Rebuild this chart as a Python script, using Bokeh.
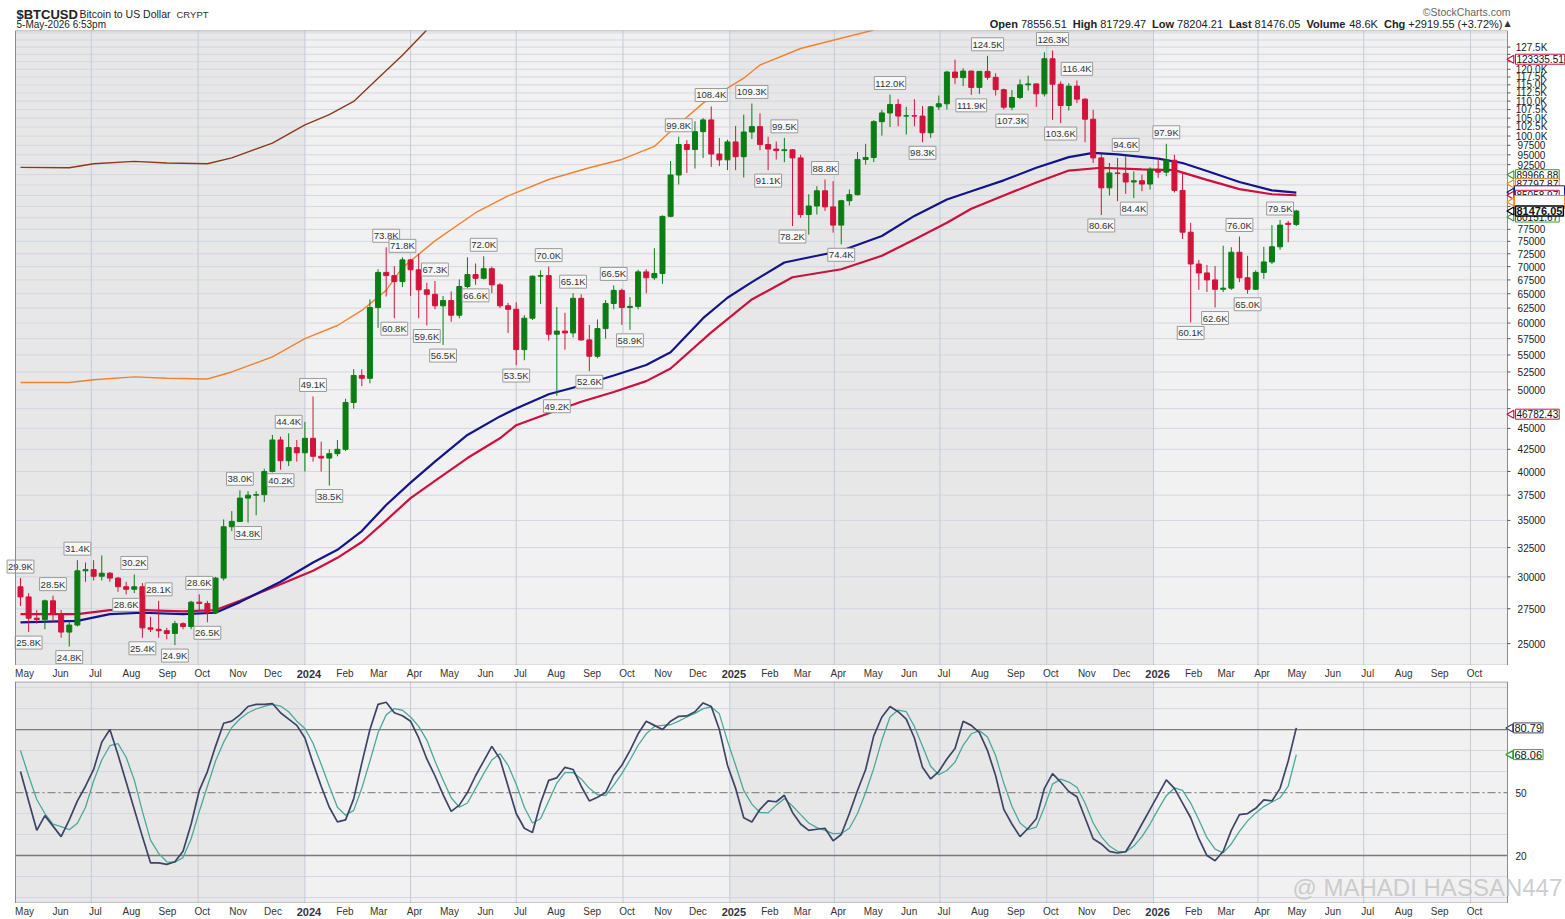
import math
import pandas as pd
from bokeh.plotting import figure
from bokeh.models import Range1d
from bokeh.layouts import column
from bokeh.embed import file_html
from bokeh.resources import INLINE
from bokeh.core.properties import value

# ---------------- data: weekly bars (thousand USD) starting week of 1-May-2023 ----------------
START = "2023-05-01"
OPEN = [29.2, 28.4, 26.8, 26.7, 28.1, 27.1, 25.8, 26.3, 30.5, 30.6,
        30.05, 30.3, 29.9, 29.2, 29.0, 29.2, 26.1, 26.0, 25.9, 25.7,
        26.4, 26.2, 28.0, 27.9, 27.2, 29.9, 34.4, 34.9, 37.2, 37.5,
        37.55, 40.0, 43.6, 41.2, 42.7, 42.1, 43.8, 41.7, 41.5, 42.0,
        42.5, 48.3, 52.0, 51.6, 62.6, 68.9, 68.3, 67.2, 71.3, 69.4,
        65.7, 64.9, 62.9, 63.8, 61.3, 66.3, 68.5, 67.8, 69.6, 66.6,
        62.9, 62.3, 55.8, 60.8, 68.2, 68.3, 58.2, 58.7, 58.4, 64.2,
        57.3, 54.8, 59.1, 63.3, 65.6, 62.6, 62.8, 69.0, 67.9, 68.7,
        80.3, 89.9, 97.7, 96.4, 101.2, 104.5, 95.2, 93.7, 98.4, 94.5,
        101.1, 102.6, 97.7, 96.5, 96.1, 96.3, 94.2, 80.7, 82.6, 86.1,
        82.4, 78.4, 83.8, 85.2, 93.8, 94.3, 104.0, 106.5, 109.0, 105.6,
        105.7, 105.6, 100.9, 108.3, 109.2, 119.1, 117.3, 119.4, 114.2, 119.3,
        117.4, 113.5, 108.2, 111.1, 115.0, 115.3, 112.2, 123.5, 115.2, 108.7,
        114.6, 110.6, 104.7, 94.2, 86.8, 90.4, 90.3, 88.2, 88.5, 87.7,
        91.3, 90.6, 93.6, 86.2, 76.9, 70.5, 68.8, 67.5, 65.8, 66.0,
        72.8, 67.9, 65.8, 68.9, 70.9, 73.9, 78.8, 78.55651]
HIGH = [29.9, 28.7, 27.4, 28.2, 28.5, 27.4, 26.6, 31.4, 31.2, 31.4,
        31.8, 30.4, 30.0, 29.6, 30.2, 29.5, 26.9, 28.1, 26.1, 26.6,
        26.5, 28.1, 28.6, 28.1, 30.0, 35.1, 35.9, 38.0, 37.9, 37.9,
        40.3, 44.2, 44.0, 44.4, 43.6, 45.8, 49.1, 43.4, 42.5, 43.6,
        48.8, 52.9, 52.9, 64.0, 69.5, 73.8, 70.1, 71.8, 71.5, 72.5,
        67.0, 67.3, 64.6, 65.4, 67.6, 71.8, 70.6, 72.0, 70.0, 66.9,
        63.4, 63.5, 61.3, 68.3, 69.3, 70.0, 62.7, 61.7, 65.1, 64.9,
        59.7, 60.6, 63.9, 66.5, 65.9, 64.4, 69.4, 69.5, 73.6, 80.5,
        93.4, 99.8, 98.9, 104.1, 105.0, 108.4, 99.5, 99.0, 102.8, 106.0,
        109.3, 106.4, 99.8, 98.5, 99.5, 96.5, 95.0, 85.3, 87.2, 88.8,
        88.4, 84.0, 86.4, 95.7, 97.9, 104.4, 107.4, 112.0, 110.6, 108.3,
        110.6, 108.5, 108.5, 111.7, 119.5, 123.2, 120.3, 119.6, 119.4, 124.5,
        118.7, 113.8, 113.4, 116.7, 117.9, 115.4, 125.7, 126.3, 116.1, 115.5,
        116.4, 110.8, 107.4, 95.2, 92.9, 94.2, 94.6, 90.8, 90.0, 91.8,
        94.2, 97.9, 95.0, 90.4, 78.9, 71.3, 70.3, 70.1, 74.1, 73.8,
        76.0, 72.1, 69.3, 73.9, 78.4, 79.5, 79.3, 81.72947]
LOW = [27.7, 25.8, 26.4, 26.0, 26.5, 25.4, 24.8, 26.2, 29.6, 29.7,
       29.7, 29.6, 28.8, 28.6, 28.7, 25.4, 25.8, 25.4, 25.3, 24.9,
       26.0, 26.0, 27.3, 26.5, 27.1, 29.7, 34.0, 34.9, 34.8, 35.5,
       36.8, 39.9, 40.2, 40.6, 41.1, 40.0, 41.1, 40.0, 38.5, 41.7,
       42.3, 47.5, 50.5, 50.9, 59.2, 64.5, 60.8, 66.2, 64.6, 60.8,
       59.6, 62.3, 56.5, 60.2, 60.8, 66.0, 66.6, 67.6, 65.1, 62.5,
       58.4, 53.5, 54.2, 60.5, 63.2, 57.2, 49.2, 55.8, 57.7, 57.2,
       52.6, 54.5, 57.5, 62.3, 59.7, 58.9, 62.3, 65.1, 67.5, 66.8,
       80.1, 87.6, 90.4, 91.5, 94.2, 91.9, 92.1, 91.1, 91.1, 89.3,
       99.2, 96.2, 91.1, 93.8, 93.1, 78.2, 80.0, 76.4, 80.7, 81.5,
       76.8, 74.4, 82.7, 85.0, 92.5, 93.1, 100.1, 102.5, 102.7, 100.4,
       102.7, 98.3, 99.5, 107.4, 107.5, 115.3, 114.6, 111.9, 112.2, 116.6,
       111.7, 107.5, 107.3, 110.6, 113.2, 108.3, 111.4, 104.5, 103.6, 107.2,
       109.4, 98.3, 92.9, 80.6, 85.0, 83.7, 85.4, 84.4, 86.0, 86.4,
       89.2, 89.6, 85.7, 75.5, 60.1, 65.7, 65.3, 62.6, 65.3, 65.7,
       67.1, 65.0, 65.7, 67.7, 70.5, 73.3, 74.8, 78.20421]
CLOSE = [28.4, 26.8, 26.7, 28.1, 27.1, 25.8, 26.3, 30.5, 30.6, 30.05,
         30.3, 29.9, 29.2, 29.0, 29.2, 26.1, 26.0, 25.9, 25.7, 26.4,
         26.2, 28.0, 27.9, 27.2, 29.9, 34.4, 34.9, 37.2, 37.5, 37.55,
         40.0, 43.6, 41.2, 42.7, 42.1, 43.8, 41.7, 41.5, 42.0, 42.5,
         48.3, 52.0, 51.6, 62.6, 68.9, 68.3, 67.2, 71.3, 69.4, 65.7,
         64.9, 62.9, 63.8, 61.3, 66.3, 68.5, 67.8, 69.6, 66.6, 62.9,
         62.3, 55.8, 60.8, 68.2, 68.3, 58.2, 58.7, 58.4, 64.2, 57.3,
         54.8, 59.1, 63.3, 65.6, 62.6, 62.8, 69.0, 67.9, 68.7, 80.3,
         89.9, 97.7, 96.4, 101.2, 104.5, 95.2, 93.7, 98.4, 94.5, 101.1,
         102.6, 97.7, 96.5, 96.1, 96.3, 94.2, 80.7, 82.6, 86.1, 82.4,
         78.4, 83.8, 85.2, 93.8, 94.3, 104.0, 106.5, 109.0, 105.6, 105.7,
         105.6, 100.9, 108.3, 109.2, 119.1, 117.3, 119.4, 114.2, 119.3, 117.4,
         113.5, 108.2, 111.1, 115.0, 115.3, 112.2, 123.5, 115.2, 108.7, 114.6,
         110.6, 104.7, 94.2, 86.8, 90.4, 90.3, 88.2, 88.5, 87.7, 91.3,
         90.6, 93.6, 86.2, 76.9, 70.5, 68.8, 67.5, 65.8, 66.0, 72.8,
         67.9, 65.8, 68.9, 70.9, 73.9, 78.4, 78.55651, 81.47605]

HI_LABEL_WEEKS = [1, 5, 8, 15, 18, 23, 28, 34, 37, 46, 48, 52, 58, 66, 69, 74, 82, 86, 91, 95,
                  100, 108, 120, 128, 131, 137, 142, 151, 156]
LO_LABEL_WEEKS = [2, 7, 14, 16, 20, 24, 29, 33, 39, 47, 51, 53, 57, 62, 67, 71, 76, 93, 96, 102,
                  112, 118, 123, 129, 134, 138, 145, 148, 152]

MA_BLUE_WEEK = [1, 8, 12, 16, 21, 25, 28, 33, 37, 40, 43, 46, 49, 52, 56, 60, 62, 66, 70, 74, 78, 81,
                85, 88, 91, 95, 99, 102, 107, 111, 115, 118, 122, 126, 130, 133, 136, 141, 144, 147,
                151, 155, 158]
MA_BLUE = [26.5, 26.6, 27.1, 27.2, 27.1, 27.2, 28.0, 29.6, 31.2, 32.3, 34.0, 36.5, 38.8, 41.1, 44.2,
           46.5, 47.5, 49.4, 50.6, 52.0, 53.5, 55.4, 60.8, 64.3, 67.1, 70.8, 72.1, 73.1, 76.1, 80.4,
           84.1, 86.0, 88.6, 91.7, 94.4, 95.5, 95.1, 94.0, 92.9, 90.9, 88.2, 86.2, 85.66]
MA_RED_WEEK = [1, 8, 12, 16, 21, 25, 28, 33, 37, 40, 43, 46, 49, 52, 56, 60, 62, 66, 70, 74, 78, 81,
               86, 91, 96, 102, 107, 111, 115, 118, 122, 126, 130, 134, 139, 143, 147, 151, 155, 158]
MA_RED = [27.1, 27.1, 27.4, 27.4, 27.3, 27.4, 28.1, 29.4, 30.5, 31.6, 33.0, 35.0, 37.2, 39.0, 41.5,
          43.8, 45.4, 46.9, 48.4, 49.7, 51.2, 53.0, 58.5, 64.0, 68.0, 69.5, 72.1, 75.4, 78.9, 82.0,
          85.0, 88.1, 91.0, 91.7, 91.3, 91.1, 88.7, 86.5, 85.3, 85.06]
BAND_ORANGE_WEEK = [1, 7, 10, 15, 19, 24, 27, 32, 36, 40, 43, 46, 48, 52, 57, 61, 66, 71, 75, 79,
                    81, 85, 90, 92, 97, 101, 106]
BAND_ORANGE = [51.0, 51.0, 51.4, 51.8, 51.6, 51.5, 52.5, 54.7, 57.5, 59.6, 62.1, 65.6, 69.8, 75.1,
               81.1, 84.9, 88.8, 91.7, 93.8, 97.2, 101.3, 109.4, 117.1, 121.4, 127.0, 129.9, 133.6]
BAND_BROWN_WEEK = [1, 7, 10, 15, 19, 24, 27, 32, 36, 39, 42, 45, 48, 51]
BAND_BROWN = [91.8, 91.7, 92.7, 93.3, 92.9, 92.7, 94.2, 98.1, 103.1, 106.0, 109.9, 117.1, 124.7, 133.6]

STO_K = [60, 46, 32, 39, 34, 29, 37, 46, 53, 61, 74, 80, 68, 55, 42, 29, 16.5, 16.5, 15.8, 17,
         22, 35, 51, 60, 72, 83, 84, 87, 91, 92, 92, 92.4, 88, 85, 82, 76, 64, 53, 43, 36,
         37, 47, 64, 80, 92, 93, 88, 86.6, 84, 76, 66, 58, 49, 41, 44, 50, 58, 65, 72, 66,
         53, 40, 33, 31, 45, 55.8, 57, 62, 61, 53, 46, 47.8, 50, 58, 63, 70, 78, 84, 82, 80,
         84, 86.3, 86.5, 88.5, 92.7, 91, 80, 63, 52, 38, 36, 42, 46, 45.6, 48.7, 40.5, 35, 32, 32.5, 33,
         27, 30, 40, 51, 61, 77, 86, 91, 88.5, 85, 76, 62, 56.5, 60, 66, 71, 84, 82, 78.5, 70,
         58, 42, 35, 29, 33, 37.5, 52, 59, 55, 50.5, 48, 38, 28, 25.5, 22, 21.2, 21.8, 28, 35, 42,
         49, 56, 52, 45, 38, 28, 20, 17.5, 22, 32, 39.5, 40, 42.5, 46.5, 46, 52, 65, 80.79]
STO_D = [70, 58, 46.7, 40, 35, 33.8, 32.3, 35.4, 43, 55.5, 65.5, 72.3, 73.3, 66.8, 56, 41, 27.3, 21, 17, 16.8,
         19, 28, 41, 53, 65, 74, 81, 85, 88, 89.8, 91, 92, 91.2, 88.5, 84, 80.5, 73.5, 63.5, 53, 43,
         39.2, 41.5, 52, 65, 78.5, 87, 90, 89.2, 86, 81.5, 75, 65, 56, 47.5, 43, 45, 52, 59, 65.5, 68.5,
         63, 54, 43, 35.5, 37.5, 46, 54.5, 59.5, 59.5, 56.5, 52, 49, 48.5, 53.5, 59, 65.5, 72.5, 78, 81.5, 82,
         82.3, 84, 86, 87.7, 90, 90.8, 87.5, 74.5, 63, 51, 44.5, 40.5, 40.3, 44, 47.1, 43.6, 39.5, 35.5, 33.3, 32,
         30.4, 30.5, 33, 40, 50, 61.5, 75, 86, 89.3, 88.5, 81.5, 72, 62.5, 58.5, 60.5, 64.5, 72.5, 78, 79.5, 76.5,
         67.5, 54.5, 43.5, 35.5, 32.3, 33.5, 43, 54, 56.4, 55, 52.5, 45, 35.5, 29, 24.5, 22, 21.7, 24.5, 29, 35,
         42, 48.5, 52.2, 51, 45, 37, 28.5, 23, 21.3, 25.5, 31.5, 36.5, 40.3, 43.3, 45.5, 47.5, 53, 68.06]

MONTH_LABELS = ["May", "Jun", "Jul", "Aug", "Sep", "Oct", "Nov", "Dec",
                "2024", "Feb", "Mar", "Apr", "May", "Jun", "Jul", "Aug", "Sep", "Oct", "Nov", "Dec",
                "2025", "Feb", "Mar", "Apr", "May", "Jun", "Jul", "Aug", "Sep", "Oct", "Nov", "Dec",
                "2026", "Feb", "Mar", "Apr", "May", "Jun", "Jul", "Aug", "Sep", "Oct"]
PRICE_TICKS = list(range(25000, 130000, 2500))
PRICE_TICKS_HIDDEN = [47500, 80000, 82500, 85000, 87500, 90000, 122500, 125000]
# (value, text, border colour, bold, text visible)
PRICE_TAGS = [(123335.51, "123335.51", "#cc1040", False, True),
              (89966.88, "89966.88", "#3a9a3a", False, True),
              (87797.87, "87797.87", "#f08a30", False, True),
              (85750.0, "", "#1a1a8a", False, False),
              (85058.97, "85058.97", "#cc1040", False, True),
              (83500.0, "", "#f08a30", False, False),
              (80151.67, "80151.67", "#3a9a3a", False, True),
              (81476.05, "81476.05", "#000000", True, True),
              (46782.43, "46782.43", "#cc1040", False, True)]
OSC_TAGS = [(80.79, "80.79", "#3d4466"), (68.06, "68.06", "#3a9a3a")]
OSC_LEVELS = [50, 20]

HEADER_ITEMS = [("Open", True), ("78556.51", False), ("High", True), ("81729.47", False),
                ("Low", True), ("78204.21", False), ("Last", True), ("81476.05", False),
                ("Volume", True), ("48.6K", False), ("Chg", True), ("+2919.55 (+3.72%)", False)]

# ---------------- layout ----------------
FONT = "Liberation Sans"
W = 1565
H_HEAD, H_PRICE, H_STRIP, H_OSC = 30, 635, 16, 222
FL, FR = 15, 1507
PPD = 1.1609  # pixels per day
DAY = 86400000.0


def ms(s):
    return (pd.Timestamp(s) - pd.Timestamp("1970-01-01")).total_seconds() * 1000.0


T0 = ms(START)
X0 = T0 - (20 / PPD) * DAY
X1 = T0 + ((W - 20) / PPD) * DAY


def px(c):
    return X0 + c * (X1 - X0) / W


def wx(n):
    return T0 + (n - 1) * 7 * DAY


xr = Range1d(X0, X1)
N = len(OPEN)
XS = [wx(i + 1) for i in range(N)]
PY0, PY1 = 23550, 133400
OY0, OY1 = -2.86, 102.9

GREEN, RED = "#0b7d14", "#d2143c"
DARK_BG, LIGHT_BG = "#e7e7e7", "#f1f1f1"
HGRID, VGRID, BORDER = "#d3d7e0", "#c5cad6", "#8c8c8c"

band_l = [px(FL), ms("2024-01-01"), ms("2025-01-01"), ms("2026-01-01")]
band_r = [ms("2024-01-01"), ms("2025-01-01"), ms("2026-01-01"), px(FR)]
band_c = [DARK_BG, LIGHT_BG, DARK_BG, LIGHT_BG]
quarters = [ms(d) for d in pd.date_range("2023-07-01", "2026-10-01", freq="QS")]


def base_fig(h, yr, ylog=False, xrange=None):
    kw = dict(width=W, height=h, x_range=xrange if xrange is not None else xr, y_range=yr,
              toolbar_location=None, output_backend="svg", x_axis_location=None,
              y_axis_location=None, min_border=0, outline_line_color=None,
              background_fill_color="white", border_fill_color="white")
    if ylog:
        kw["y_axis_type"] = "log"
    f = figure(**kw)
    f.grid.grid_line_color = None
    return f


# Arial-metric widths (1/1000 em) used only to lay out the header line
REG = {"O": 778, "p": 556, "e": 556, "n": 556, "H": 722, "i": 222, "g": 556, "h": 556, "L": 556,
       "o": 556, "w": 722, "a": 556, "s": 500, "t": 278, "V": 667, "l": 222, "u": 556, "m": 833,
       "C": 722, "K": 667, ".": 278, " ": 278, "+": 584, "(": 333, ")": 333, "%": 889}
BLD = {"O": 778, "p": 611, "e": 556, "n": 611, "H": 722, "i": 278, "g": 611, "h": 611, "L": 611,
       "o": 611, "w": 778, "a": 556, "s": 556, "t": 333, "V": 667, "l": 278, "u": 611, "m": 889,
       "C": 722}


def tw(s, size, bold):
    tab = BLD if bold else REG
    return sum(tab.get(ch, 556) for ch in s) * size / 1000.0


# ---------------- header ----------------
hd = base_fig(H_HEAD, Range1d(0, H_HEAD), xrange=Range1d(0, W))
L1, L2 = 16.5, 6.5
hd.text(x=[16], y=[L1], text=["$BTCUSD"], text_font=value(FONT), text_font_size="13px",
        text_font_style="bold", text_color="#222222", text_baseline="alphabetic")
hd.text(x=[79], y=[L1], text=["Bitcoin to US Dollar"], text_font=value(FONT), text_font_size="10.5px",
        text_color="#222222", text_baseline="alphabetic")
hd.text(x=[176], y=[L1], text=["CRYPT"], text_font=value(FONT), text_font_size="9.5px",
        text_color="#333333", text_baseline="alphabetic")
hd.text(x=[16], y=[L2], text=["5-May-2026 6:53pm"], text_font=value(FONT), text_font_size="10px",
        text_color="#222222", text_baseline="alphabetic")
hd.text(x=[1510], y=[L1 + 2], text=["\u00a9StockCharts.com"], text_font=value(FONT), text_font_size="10.5px",
        text_color="#666666", text_baseline="alphabetic", text_align="right")
FS = 11
cur = 1502.0
pos = []
for i in range(len(HEADER_ITEMS) - 1, -1, -1):
    t, b = HEADER_ITEMS[i]
    cur -= tw(t, FS, b)
    pos.append((cur, t, b))
    cur -= 3 if not b else 6
for x, t, b in pos:
    hd.text(x=[x], y=[L2], text=[t], text_font=value(FONT), text_font_size="%dpx" % FS,
            text_font_style="bold" if b else "normal", text_color="#222222", text_baseline="alphabetic")
hd.text(x=[1504], y=[L2 + 0.5], text=["\u25b2"], text_font=value("DejaVu Sans"), text_font_size="8px",
        text_color="#333333", text_baseline="alphabetic")

# ---------------- price panel ----------------
pp = base_fig(H_PRICE, Range1d(PY0, PY1), ylog=True)
pp.quad(left=band_l, right=band_r, bottom=PY0, top=PY1, fill_color=band_c, line_color=None)
grid_levels = list(range(25000, 135000, 2500))
pp.segment(x0=px(FL), x1=px(FR), y0=grid_levels, y1=grid_levels, line_color=HGRID, line_width=1)
pp.segment(x0=quarters, x1=quarters, y0=PY0, y1=PY1, line_color=VGRID, line_width=1)

pp.line([wx(n) for n in BAND_BROWN_WEEK], [v * 1000 for v in BAND_BROWN], line_color="#8b3a1e", line_width=1.4)
pp.line([wx(n) for n in BAND_ORANGE_WEEK], [v * 1000 for v in BAND_ORANGE], line_color="#f08232", line_width=1.4)
pp.line([wx(n) for n in MA_RED_WEEK], [v * 1000 for v in MA_RED], line_color="#cc1040", line_width=2.2)
pp.line([wx(n) for n in MA_BLUE_WEEK], [v * 1000 for v in MA_BLUE], line_color="#14148c", line_width=2.2)

cols = [GREEN if c >= o else RED for o, c in zip(OPEN, CLOSE)]
pp.segment(x0=XS, x1=XS, y0=[v * 1000 for v in LOW], y1=[v * 1000 for v in HIGH], line_color=cols, line_width=1)
pp.vbar(x=XS, width=4.3 * DAY, top=[max(o, c) * 1000 for o, c in zip(OPEN, CLOSE)],
        bottom=[min(o, c) * 1000 for o, c in zip(OPEN, CLOSE)], fill_color=cols, line_color=cols, line_width=1)

lab_kw = dict(text_font=value(FONT), text_font_size="9.5px", text_color="#333333", text_align="center",
              background_fill_color="#f8f8f8", border_line_color="#9a9a9a", padding=1)
pp.text(x=[wx(n) for n in HI_LABEL_WEEKS], y=[HIGH[n - 1] * 1000 for n in HI_LABEL_WEEKS],
        text=["%.1fK" % HIGH[n - 1] for n in HI_LABEL_WEEKS], text_baseline="bottom", y_offset=-5, **lab_kw)
pp.text(x=[wx(n) for n in LO_LABEL_WEEKS], y=[LOW[n - 1] * 1000 for n in LO_LABEL_WEEKS],
        text=["%.1fK" % LOW[n - 1] for n in LO_LABEL_WEEKS], text_baseline="top", y_offset=4, **lab_kw)

# frame border
pp.segment(x0=[px(FL), px(FR), px(FL), px(FL)], x1=[px(FL), px(FR), px(FR), px(FR)],
           y0=[PY0, PY0, PY1 * 0.9995, PY0 * 1.0005], y1=[PY1, PY1, PY1 * 0.9995, PY0 * 1.0005],
           line_color=BORDER, line_width=1)

# right price scale
pp.segment(x0=px(FR), x1=px(FR + 3), y0=PRICE_TICKS, y1=PRICE_TICKS, line_color="#555555", line_width=1)
shown = [v for v in PRICE_TICKS if v not in PRICE_TICKS_HIDDEN]
pp.text(x=px(1531), y=shown, text=[("%.1fK" % (v / 1000)) if v >= 100000 else str(v) for v in shown],
        text_font=value(FONT), text_font_size="10px", text_color="#222222", text_align="center",
        text_baseline="middle")
for v, t, c, b, vis in PRICE_TAGS:
    pp.scatter(x=[px(1511)], y=[v], marker="triangle", size=8, angle=math.pi / 2,
               fill_color="white", line_color=c, line_width=1.2)
    if vis:
        pp.text(x=[px(1515)], y=[v], text=[t], text_font=value(FONT),
                text_font_size="11px" if b else "10px", text_font_style="bold" if b else "normal",
                text_color="#111111", text_align="left", text_baseline="middle",
                background_fill_color="white", border_line_color=c, border_line_width=1.5 if b else 1,
                padding=1)
    else:
        pp.rect(x=[px(1539)], y=[v], width=50, height=13, width_units="screen", height_units="screen",
                fill_color="white", line_color=c, line_width=1)

# ---------------- month strips ----------------
month_x = [ms(d) + 3.5 * DAY for d in pd.date_range("2023-05-01", periods=len(MONTH_LABELS), freq="MS")]


def strip():
    s = base_fig(H_STRIP, Range1d(0, H_STRIP))
    reg = [(x, t) for x, t in zip(month_x, MONTH_LABELS) if not t.isdigit()]
    yrs = [(x, t) for x, t in zip(month_x, MONTH_LABELS) if t.isdigit()]
    s.text(x=[a for a, _ in reg], y=8, text=[b for _, b in reg], text_font=value(FONT),
           text_font_size="10px", text_color="#333333", text_align="center", text_baseline="middle")
    s.text(x=[a for a, _ in yrs], y=8, text=[b for _, b in yrs], text_font=value(FONT),
           text_font_size="11px", text_font_style="bold", text_color="#333344", text_align="center",
           text_baseline="middle")
    return s


s1 = strip()
s2 = strip()

# ---------------- oscillator panel ----------------
po = base_fig(H_OSC, Range1d(OY0, OY1))
po.quad(left=band_l, right=band_r, bottom=OY0, top=OY1, fill_color=band_c, line_color=None)
faint = [0, 10, 30, 40, 60, 70, 90, 100]
po.segment(x0=px(FL), x1=px(FR), y0=faint, y1=faint, line_color=HGRID, line_width=1)
po.segment(x0=quarters, x1=quarters, y0=OY0, y1=OY1, line_color=VGRID, line_width=1)
po.segment(x0=px(FL), x1=px(FR), y0=[80, 20], y1=[80, 20], line_color="#7a7a7a", line_width=1.3)
po.segment(x0=px(FL), x1=px(FR), y0=[50], y1=[50], line_color="#8a8a8a", line_width=1.2, line_dash="8 3 2 3")
po.line(XS, STO_D, line_color="#4ea79a", line_width=1.3)
po.line(XS, STO_K, line_color="#3d4466", line_width=1.7)
po.segment(x0=[px(FL), px(FR), px(FL), px(FL)], x1=[px(FL), px(FR), px(FR), px(FR)],
           y0=[OY0, OY0, OY1 - 0.2, OY0 + 0.2], y1=[OY1, OY1, OY1 - 0.2, OY0 + 0.2],
           line_color=BORDER, line_width=1)
po.text(x=px(1515), y=OSC_LEVELS, text=[str(v) for v in OSC_LEVELS], text_font=value(FONT),
        text_font_size="10px", text_color="#222222", text_align="left", text_baseline="middle")
for v, t, c in OSC_TAGS:
    po.scatter(x=[px(1510)], y=[v], marker="triangle", size=8, angle=math.pi / 2,
               fill_color="white", line_color=c, line_width=1.2)
    po.text(x=[px(1513)], y=[v], text=[t], text_font=value(FONT), text_font_size="11px",
            text_color="#111111", text_align="left", text_baseline="middle",
            background_fill_color="white", border_line_color=c, padding=1)
po.text(x=[px(1292)], y=[OY0 + 1.2], text=["@ MAHADI HASSAN447"], text_font=value(FONT),
        text_font_size="24px", text_color="#c4c4c4", text_alpha=0.85, text_baseline="bottom",
        text_align="left")

layout = column(hd, pp, s1, po, s2, spacing=0)
open("out.html", "w").write(file_html(layout, INLINE, "BTCUSD"))
